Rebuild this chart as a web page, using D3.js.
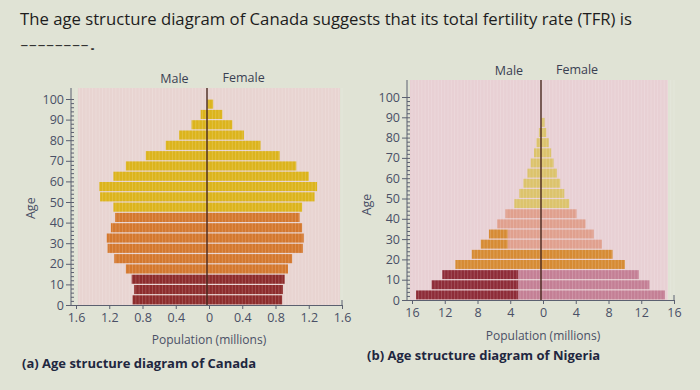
<!DOCTYPE html>
<html>
<head>
<meta charset="utf-8">
<script src="https://cdn.jsdelivr.net/npm/d3@7"></script>
<style>
  body { margin: 0; background: #e0e3d5; }
  svg { display: block; font-family: "Open Sans", "DejaVu Sans", sans-serif; }
</style>
</head>
<body>
<svg id="chart" width="700" height="390"></svg>
<script>
// age groups (5-year bands, lower bound)
const canadaAges = [0,5,10,15,20,25,30,35,40,45,50,55,60,65,70,75,80,85,90,95];
const canadaMale = [0.92,0.90,0.93,1.00,1.14,1.22,1.23,1.18,1.13,1.15,1.31,1.32,1.15,1.00,0.76,0.52,0.36,0.21,0.10,0.02];
const canadaFemale = [0.88,0.89,0.91,0.95,1.00,1.13,1.14,1.12,1.09,1.12,1.27,1.30,1.20,1.05,0.85,0.62,0.42,0.28,0.16,0.05];

const nigeriaAges = [0,5,10,15,20,25,30,35,40,45,50,55,60,65,70,75,80,85];
const nigeriaMale = [15.5,13.6,12.3,10.7,8.7,7.6,6.6,5.6,4.6,3.5,2.9,2.4,1.9,1.5,1.1,0.8,0.5,0.2];
const nigeriaFemale = [14.9,13.0,11.7,10.0,8.5,7.2,6.2,5.2,4.1,3.2,2.6,2.1,1.7,1.3,1.0,0.7,0.4,0.2];

const canadaTicks = [-1.6,-1.2,-0.8,-0.4,0,0.4,0.8,1.2,1.6];
const nigeriaTicks = [-16,-12,-8,-4,0,4,8,12,16];
const ageTicks = [0,10,20,30,40,50,60,70,80,90,100];

const svg = d3.select("#chart");

svg.append("text")
  .attr("x", 20).attr("y", 25)
  .attr("font-size", 16.5)
  .attr("fill", "#1d1d1d")
  .attr("textLength", 612).attr("lengthAdjust", "spacingAndGlyphs")
  .text("The age structure diagram of Canada suggests that its total fertility rate (TFR) is");
svg.append("text")
  .attr("x", 20).attr("y", 50)
  .attr("font-size", 14)
  .attr("fill", "#333")
  .attr("textLength", 76).attr("lengthAdjust", "spacingAndGlyphs")
  .text("--------.");

function canadaColor(age) {
  if (age < 15) return "#8d2c2c";
  if (age < 45) return "#d4782e";
  return "#dcb41c";
}

function drawPyramid(opt) {
  const g = svg.append("g");
  const x = d3.scaleLinear().domain([-opt.max, opt.max]).range([opt.x0, opt.x1]);
  const y = d3.scaleLinear().domain([0, 100]).range([opt.y0, opt.y100]);

  // pink plot background
  g.append("rect")
    .attr("x", opt.bgX0).attr("y", opt.bgTop)
    .attr("width", opt.bgX1 - opt.bgX0).attr("height", opt.y0 - opt.bgTop)
    .attr("fill", opt.bg);

  // bars
  const rows = opt.ages.map((a, i) => ({ age: a, m: opt.male[i], f: opt.female[i] }));
  rows.forEach(r => {
    const top = y(r.age + 5) + 0.6, h = y(r.age) - y(r.age + 5) - 1.2;
    opt.segments(r).forEach(s => {
      g.append("rect")
        .attr("x", x(s[0])).attr("y", top)
        .attr("width", x(s[1]) - x(s[0])).attr("height", h)
        .attr("fill", s[2]);
    });
  });

  // fine white texture grid
  const grid = g.append("g").attr("stroke", "#fff").attr("stroke-width", 0.6).attr("opacity", 0.28);
  d3.range(-opt.max, opt.max + 1e-9, opt.max / 40).forEach(v => {
    grid.append("line").attr("x1", x(v)).attr("x2", x(v)).attr("y1", opt.bgTop).attr("y2", opt.y0);
  });

  // centre line
  g.append("line")
    .attr("x1", x(0) - 2).attr("x2", x(0) - 2)
    .attr("y1", opt.bgTop).attr("y2", opt.y0)
    .attr("stroke", "#4a2a20").attr("stroke-width", 1.4);

  // y axis
  const ya = g.append("g").attr("transform", `translate(${opt.yAxisX},0)`)
    .call(d3.axisLeft(y).tickValues(ageTicks).tickSize(5).tickPadding(2));
  g.append("g").attr("transform", `translate(${opt.yAxisX},0)`)
    .call(d3.axisRight(y).tickValues(d3.range(0, 101, 2)).tickSize(3).tickFormat(""))
    .call(s => s.select(".domain").remove())
    .selectAll("line").attr("stroke", "#5b6070");
  // x axis
  const xa = g.append("g").attr("transform", `translate(0,${opt.y0})`)
    .call(d3.axisBottom(x).tickValues(opt.ticks).tickSize(4).tickPadding(4).tickFormat(d => Math.abs(d)));
  xa.select(".domain").attr("d", `M${opt.yAxisX},0.5H${x(opt.max)}V-5`);
  [ya, xa].forEach(a => {
    a.selectAll("line, path").attr("stroke", "#5b6070");
    a.selectAll("text").attr("font-size", 12.5).attr("fill", "#4a5066").attr("font-family", "Open Sans, sans-serif");
  });
  ya.select(".domain").attr("d", `M0,${opt.y0}V${opt.bgTop}`);

  g.append("text")
    .attr("transform", `translate(${opt.yAxisX - 36},${y(47)}) rotate(-90)`)
    .attr("text-anchor", "middle").attr("font-size", 12.5).attr("fill", "#4a5066")
    .text("Age");
  g.append("text").attr("x", x(-opt.max * 0.26)).attr("y", opt.bgTop - 5)
    .attr("text-anchor", "middle").attr("font-size", 12.5).attr("fill", "#3a3f52").text("Male");
  g.append("text").attr("x", x(opt.max * 0.26)).attr("y", opt.bgTop - 6)
    .attr("text-anchor", "middle").attr("font-size", 12.5).attr("fill", "#3a3f52").text("Female");
  g.append("text").attr("x", x(0)).attr("y", opt.y0 + opt.popDy)
    .attr("text-anchor", "middle").attr("font-size", 12).attr("fill", "#4a5066").text("Population (millions)");
  g.append("text").attr("x", opt.capX).attr("y", opt.capY)
    .attr("font-size", 13).attr("font-weight", "bold").attr("fill", "#1f2740").text(opt.caption);
}

drawPyramid({
  ages: canadaAges, male: canadaMale, female: canadaFemale, max: 1.6, ticks: canadaTicks,
  x0: 76, x1: 342, y0: 305, y100: 99, yAxisX: 71,
  bgX0: 78, bgX1: 340, bgTop: 88, bg: "#e8d4d1", popDy: 39,
  segments: r => [[-r.m, 0, canadaColor(r.age)], [0, r.f, canadaColor(r.age)]],
  caption: "(a) Age structure diagram of Canada", capX: 22, capY: 368
});

drawPyramid({
  ages: nigeriaAges, male: nigeriaMale, female: nigeriaFemale, max: 16, ticks: nigeriaTicks,
  x0: 412, x1: 674, y0: 300, y100: 97, yAxisX: 407,
  bgX0: 410, bgX1: 668, bgTop: 80, bg: "#e8d0d4", popDy: 40,
  segments: r => {
    if (r.age < 15) return [[-r.m, -3, "#8e2c38"], [-3, r.f, "#c47f95"]];
    if (r.age < 25) return [[-r.m, r.f, "#d68b34"]];
    if (r.age < 35) return [[-r.m, -4.3, "#d68b34"], [-4.3, r.f, "#e0a08e"]];
    if (r.age < 45) return [[-r.m, r.f, "#e0a08e"]];
    return [[-r.m, r.f, "#dcc36c"]];
  },
  caption: "(b) Age structure diagram of Nigeria", capX: 367, capY: 360
});
</script>
</body>
</html>
